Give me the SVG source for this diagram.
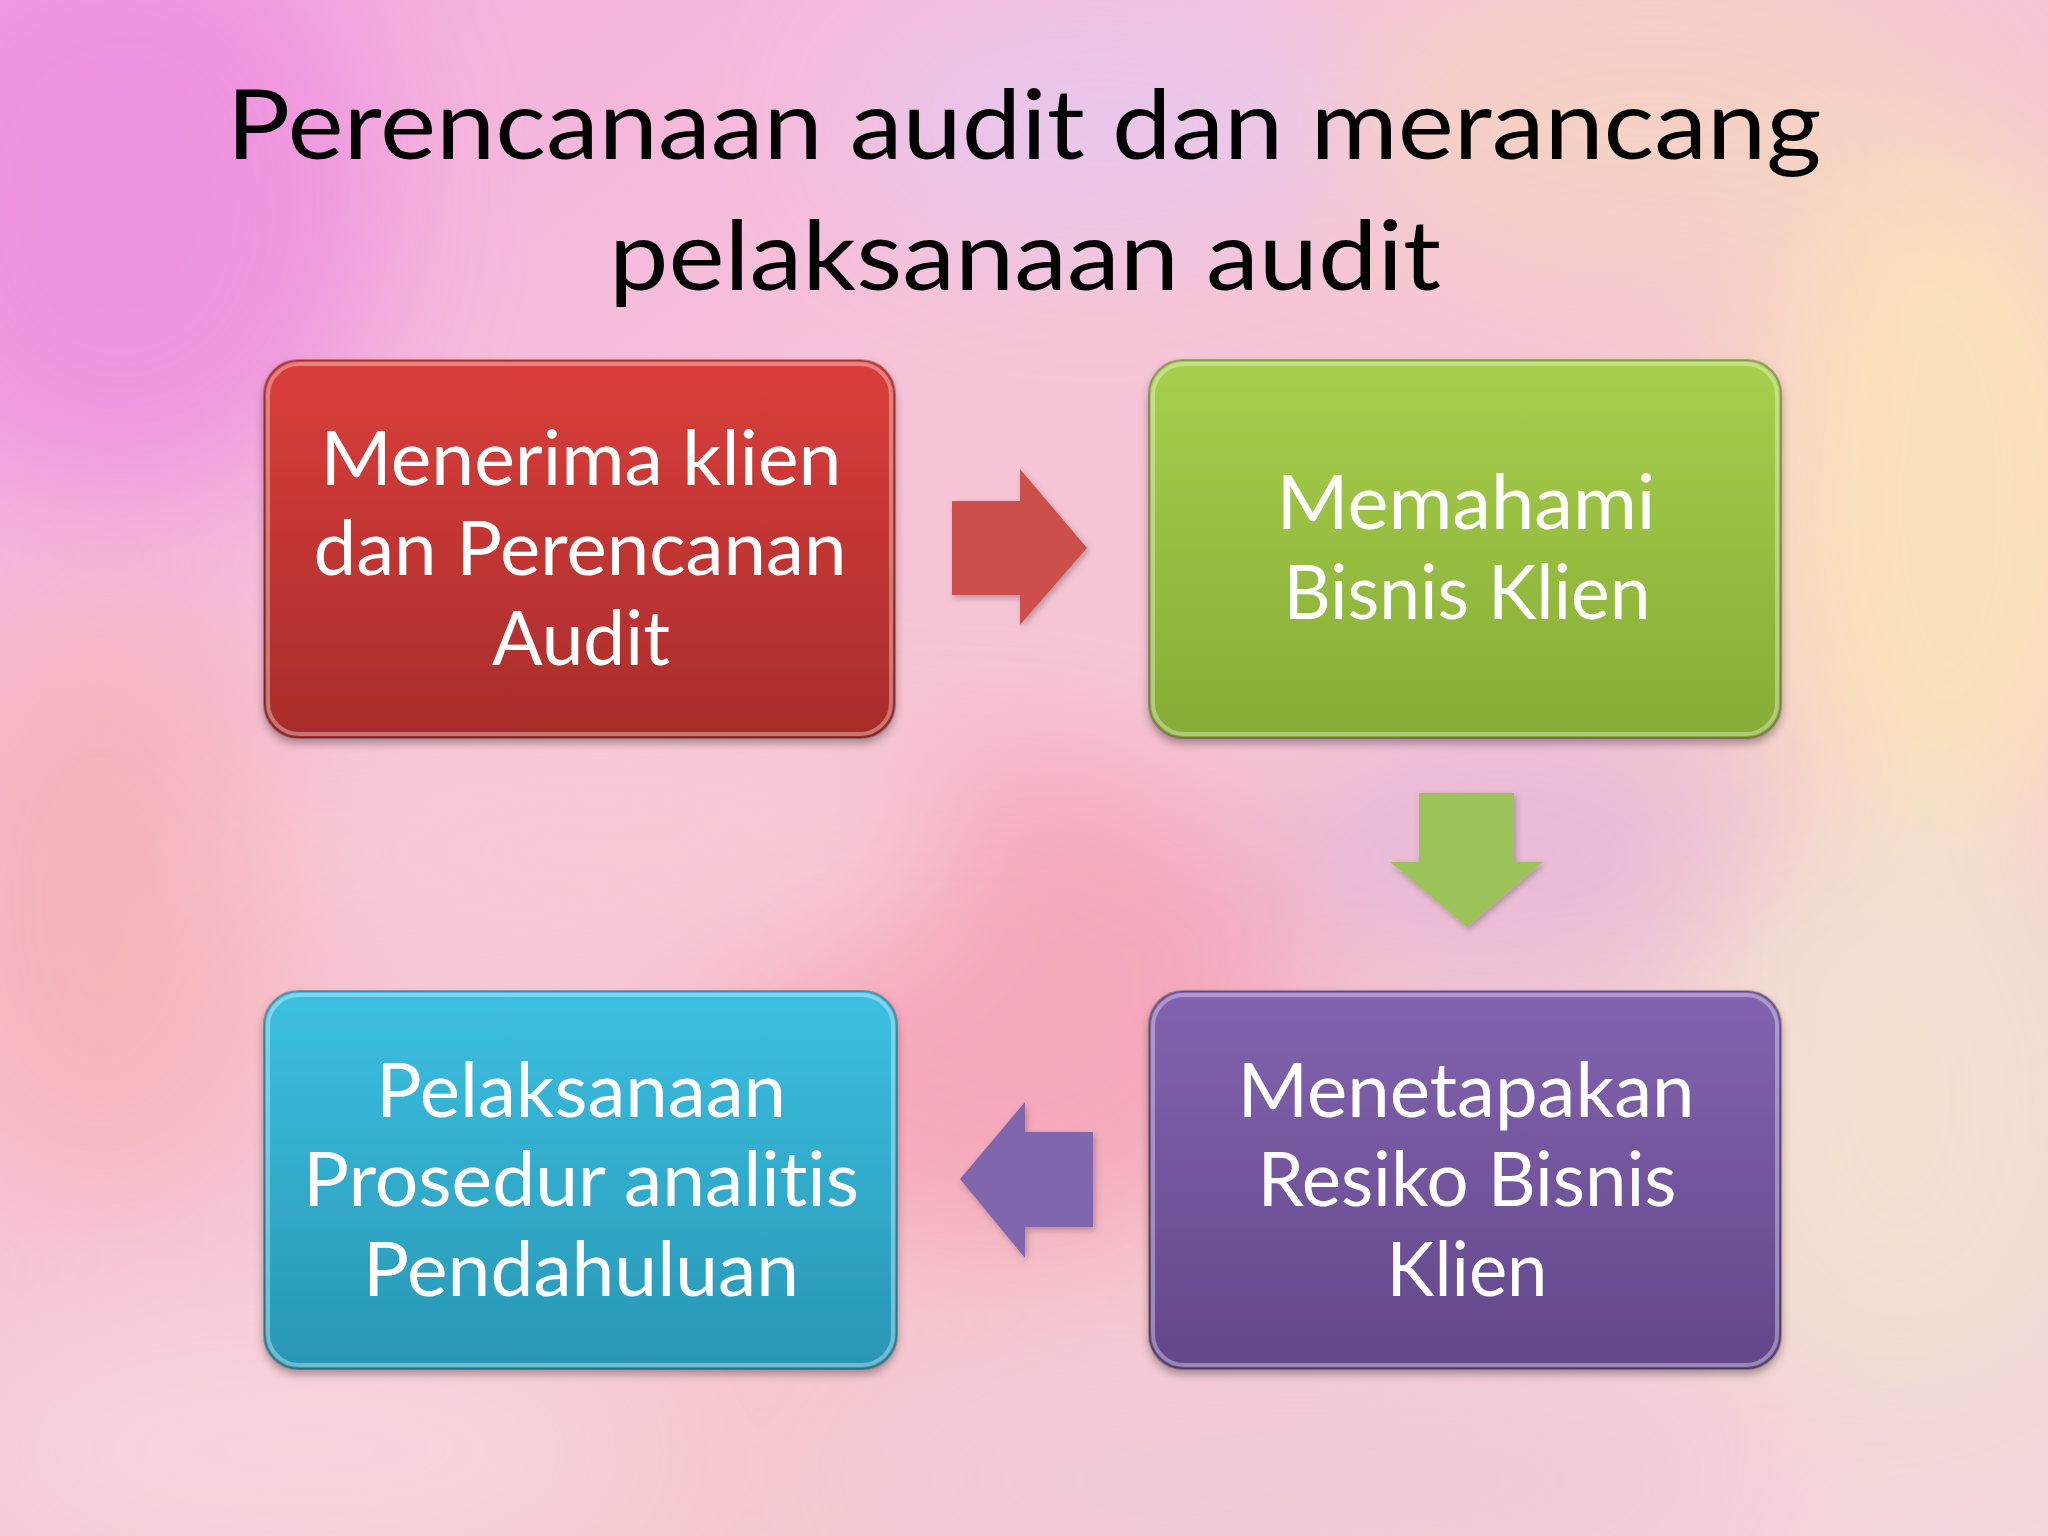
<svg xmlns="http://www.w3.org/2000/svg" width="2048" height="1536" viewBox="0 0 2048 1536">
<defs>
  <linearGradient id="bgBase" x1="0" y1="0" x2="1" y2="1">
    <stop offset="0" stop-color="#f2a9e0"/>
    <stop offset="0.35" stop-color="#f7c4d8"/>
    <stop offset="0.65" stop-color="#f6c8cf"/>
    <stop offset="1" stop-color="#f3d8dc"/>
  </linearGradient>
  <filter id="blur" x="-50%" y="-50%" width="200%" height="200%"><feGaussianBlur stdDeviation="70"/></filter>
  <filter id="shadow" x="-10%" y="-10%" width="120%" height="125%">
    <feDropShadow dx="0" dy="5" stdDeviation="5" flood-color="#000" flood-opacity="0.35"/>
  </filter>
  <filter id="ashadow" x="-20%" y="-20%" width="140%" height="140%">
    <feDropShadow dx="2" dy="3" stdDeviation="3" flood-color="#000" flood-opacity="0.25"/>
  </filter>
  <linearGradient id="gRed" x1="0" y1="0" x2="0" y2="1">
    <stop offset="0" stop-color="#da3f3b"/><stop offset="1" stop-color="#a82c2b"/>
  </linearGradient>
  <linearGradient id="gGreen" x1="0" y1="0" x2="0" y2="1">
    <stop offset="0" stop-color="#a8cf4c"/><stop offset="1" stop-color="#86ac36"/>
  </linearGradient>
  <linearGradient id="gPurple" x1="0" y1="0" x2="0" y2="1">
    <stop offset="0" stop-color="#8363b0"/><stop offset="1" stop-color="#624789"/>
  </linearGradient>
  <linearGradient id="gBlue" x1="0" y1="0" x2="0" y2="1">
    <stop offset="0" stop-color="#3cc0e2"/><stop offset="1" stop-color="#2896b4"/>
  </linearGradient>
  <style>
    .title { font-family: Lato, "Open Sans", "DejaVu Sans", sans-serif; font-size: 97px; fill: #000; font-variant-ligatures: none; }
    .lbl { font-family: Lato, "Open Sans", "DejaVu Sans", sans-serif; font-size: 75px; fill: #fff; font-variant-ligatures: none; }
    .hl { fill: none; stroke: #ffffff; stroke-opacity: 0.35; stroke-width: 4; }
    .edge { fill: none; stroke: #000; stroke-opacity: 0.25; stroke-width: 2; }
  </style>
</defs>

<!-- background -->
<rect x="0" y="0" width="2048" height="1536" fill="url(#bgBase)"/>
<g filter="url(#blur)" opacity="0.85">
  <ellipse cx="120" cy="200" rx="260" ry="300" fill="#ee8fe0"/>
  <ellipse cx="1650" cy="120" rx="300" ry="160" fill="#f5d3c2"/>
  <ellipse cx="1950" cy="500" rx="200" ry="350" fill="#fae6b8"/>
  <ellipse cx="1100" cy="120" rx="250" ry="120" fill="#e6c8ef"/>
  <ellipse cx="100" cy="900" rx="200" ry="300" fill="#f6b3b8"/>
  <ellipse cx="1000" cy="1000" rx="300" ry="250" fill="#f5a3b7"/>
  <ellipse cx="1900" cy="1100" rx="220" ry="300" fill="#f3e2d0"/>
  <ellipse cx="600" cy="850" rx="350" ry="150" fill="#f8cbd4"/>
  <ellipse cx="1500" cy="850" rx="250" ry="150" fill="#e7b9d8"/>
  <ellipse cx="300" cy="1450" rx="350" ry="150" fill="#f7d6dc"/>
  <ellipse cx="1300" cy="1480" rx="450" ry="120" fill="#f1c9d8"/>
</g>

<!-- title -->
<g id="title">
  <text class="title" x="1024" y="159" text-anchor="middle" textLength="1595" lengthAdjust="spacingAndGlyphs">Perencanaan audit dan merancang</text>
  <text class="title" x="1025" y="290" text-anchor="middle" textLength="832" lengthAdjust="spacingAndGlyphs">pelaksanaan audit</text>
</g>

<!-- connectors -->
<g id="connectors" filter="url(#ashadow)">
  <polygon points="952,501 1020,501 1020,469 1087,548 1020,625 1020,595 952,595" fill="#cc4f4c"/>
  <polygon points="1419,793 1514,793 1514,862 1543,862 1467,927 1390,862 1419,862" fill="#9cc35a"/>
  <polygon points="1093,1132 1025,1132 1025,1102 960,1179 1025,1258 1025,1227 1093,1227" fill="#8066ac"/>
</g>

<!-- nodes -->
<g id="node-menerima">
  <rect x="264" y="360" width="631" height="378" rx="34" fill="url(#gRed)" filter="url(#shadow)"/>
  <rect x="268" y="364" width="623" height="370" rx="31" class="hl"/>
  <rect x="264" y="360" width="631" height="378" rx="34" class="edge"/>
  <text class="lbl" x="581" y="485" text-anchor="middle" textLength="521" lengthAdjust="spacingAndGlyphs">Menerima klien</text>
  <text class="lbl" x="580" y="575" text-anchor="middle" textLength="533" lengthAdjust="spacingAndGlyphs">dan Perencanan</text>
  <text class="lbl" x="581" y="665" text-anchor="middle" textLength="178" lengthAdjust="spacingAndGlyphs">Audit</text>
</g>

<g id="node-memahami">
  <rect x="1149" y="360" width="632" height="378" rx="34" fill="url(#gGreen)" filter="url(#shadow)"/>
  <rect x="1153" y="364" width="624" height="370" rx="31" class="hl"/>
  <rect x="1149" y="360" width="632" height="378" rx="34" class="edge"/>
  <text class="lbl" x="1466" y="529" text-anchor="middle" textLength="379" lengthAdjust="spacingAndGlyphs">Memahami</text>
  <text class="lbl" x="1467" y="619" text-anchor="middle" textLength="367" lengthAdjust="spacingAndGlyphs">Bisnis Klien</text>
</g>

<g id="node-menetapakan">
  <rect x="1149" y="991" width="632" height="378" rx="34" fill="url(#gPurple)" filter="url(#shadow)"/>
  <rect x="1153" y="995" width="624" height="370" rx="31" class="hl"/>
  <rect x="1149" y="991" width="632" height="378" rx="34" class="edge"/>
  <text class="lbl" x="1466" y="1117" text-anchor="middle" textLength="457" lengthAdjust="spacingAndGlyphs">Menetapakan</text>
  <text class="lbl" x="1467" y="1206" text-anchor="middle" textLength="419" lengthAdjust="spacingAndGlyphs">Resiko Bisnis</text>
  <text class="lbl" x="1467" y="1296" text-anchor="middle" textLength="161" lengthAdjust="spacingAndGlyphs">Klien</text>
</g>

<g id="node-pelaksanaan">
  <rect x="264" y="991" width="633" height="378" rx="34" fill="url(#gBlue)" filter="url(#shadow)"/>
  <rect x="268" y="995" width="625" height="370" rx="31" class="hl"/>
  <rect x="264" y="991" width="633" height="378" rx="34" class="edge"/>
  <text class="lbl" x="581" y="1117" text-anchor="middle" textLength="410" lengthAdjust="spacingAndGlyphs">Pelaksanaan</text>
  <text class="lbl" x="581" y="1206" text-anchor="middle" textLength="556" lengthAdjust="spacingAndGlyphs">Prosedur analitis</text>
  <text class="lbl" x="581" y="1296" text-anchor="middle" textLength="436" lengthAdjust="spacingAndGlyphs">Pendahuluan</text>
</g>
</svg>
